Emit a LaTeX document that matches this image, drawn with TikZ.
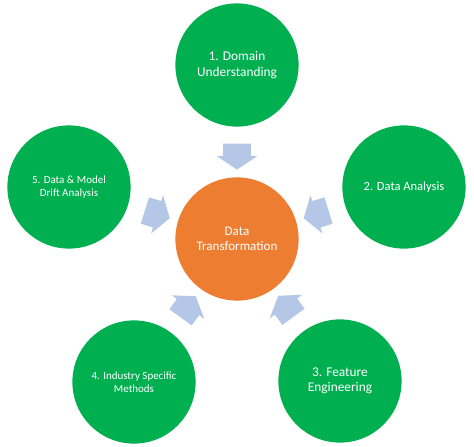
\documentclass[tikz,border=0pt]{standalone}
\usepackage{fontspec}
\setmainfont{Carlito}
\usetikzlibrary{shapes.arrows}
\definecolor{stepgreen}{HTML}{00B050}
\definecolor{coreorange}{HTML}{ED7D31}
\definecolor{pointerblue}{HTML}{B4C7E7}
\begin{document}
\begin{tikzpicture}[x=0.025cm,y=-0.025cm,
    phase/.style={circle,fill=stepgreen,minimum size=3.08cm,inner sep=0pt,
      text=white,align=center,font=\fontsize{9.5}{11}\selectfont},
    small/.style={font=\fontsize{7.8}{9}\selectfont},
    core/.style={phase,fill=coreorange,font=\fontsize{9.3}{11}\selectfont},
    pointer/.style={single arrow,fill=pointerblue,inner xsep=0pt,inner ysep=0.3375cm,
      minimum height=0.65cm,single arrow head extend=0.16cm,
      single arrow tip angle=113,allow upside down}]
  \useasboundingbox (0,0) rectangle (474,447);
  \node[core] (dt) at (237,239) {Data\\Transformation};
  \node[phase] (domain) at (237,65) {1. Domain\\Understanding};
  \node[phase,font=\fontsize{8.9}{10.5}\selectfont] (analysis) at (404,187) {2. Data Analysis};
  \node[phase] (feature) at (340,381) {3. Feature\\Engineering};
  \node[phase,small] (industry) at (134,382) {4. Industry Specific\\Methods};
  \node[phase,small] (drift) at (69,187) {5. Data \& Model\\Drift Analysis};
  \foreach \s in {domain,analysis,feature,industry,drift}
    \path (\s) -- (dt) node[pointer,midway,sloped] {};
\end{tikzpicture}
\end{document}
